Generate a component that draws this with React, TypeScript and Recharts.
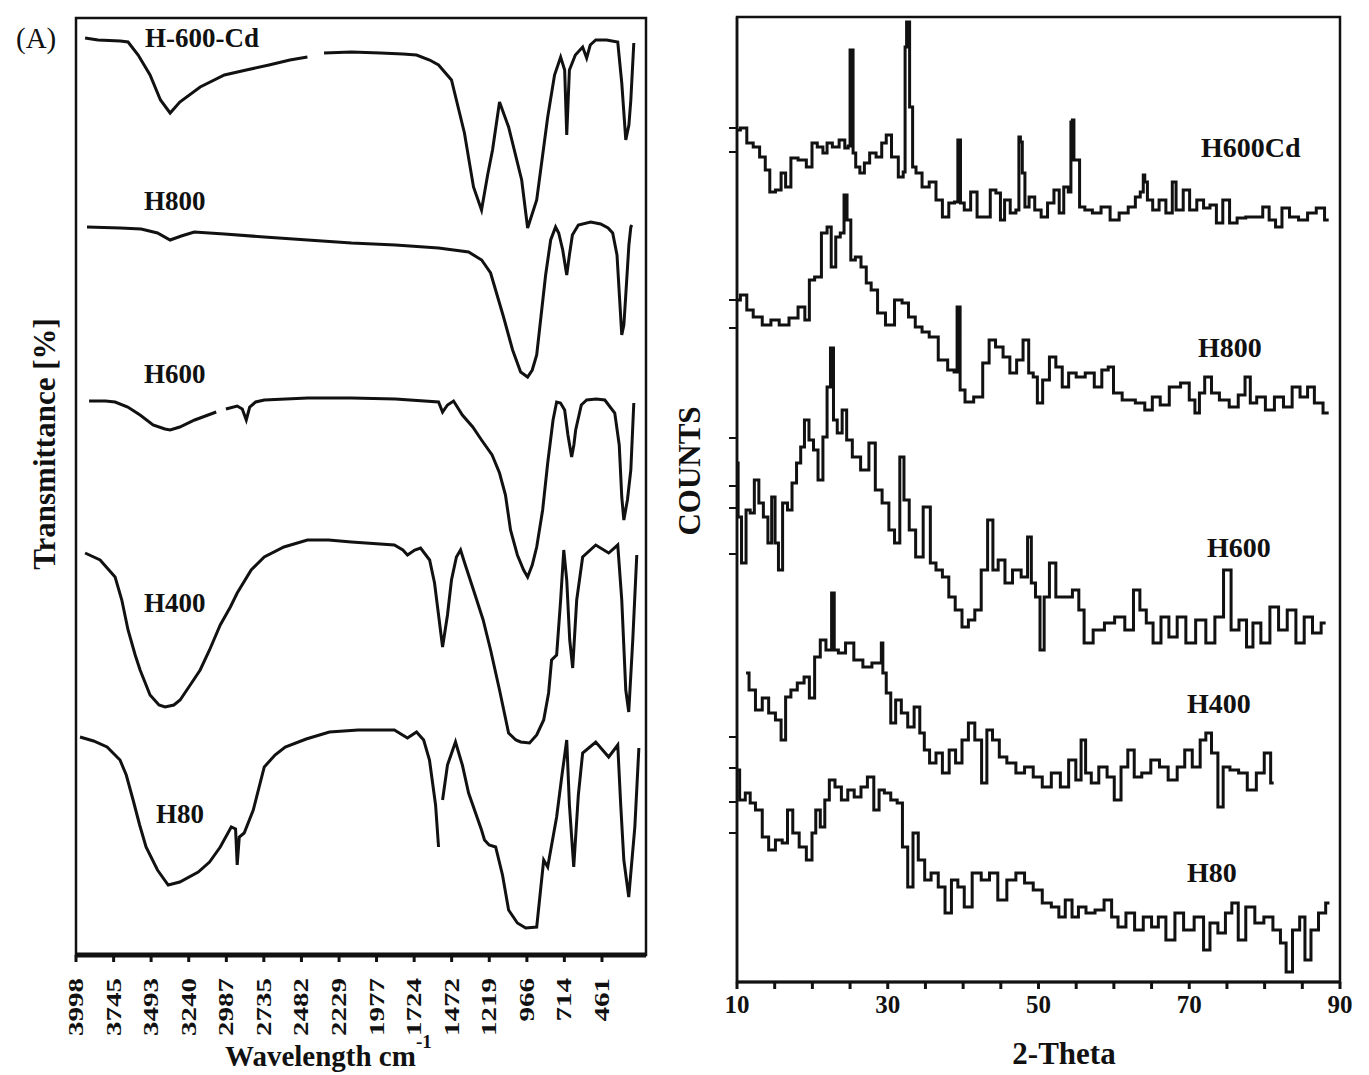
import { LineChart, Line, XAxis, YAxis, ReferenceArea } from "recharts";

// FTIR spectra: [wavenumber cm-1, offset transmittance]
const ftirH600Cd: [number, number | null][] = [
  [3937, 917], [3850, 915], [3700, 914], [3648, 913], [3580, 900], [3500, 880], [3430, 855], [3365, 842],
  [3300, 853], [3163, 868], [3000, 880], [2853, 885], [2700, 890], [2560, 895], [2442, 898], [2400, null],
  [2330, 902], [2146, 903], [1950, 902], [1800, 901], [1708, 900], [1620, 895], [1560, 890], [1473, 875],
  [1386, 822], [1325, 768], [1271, 745], [1230, 780], [1197, 805], [1150, 853], [1089, 828], [1001, 775],
  [961, 727], [900, 755], [826, 838], [780, 880], [739, 898], [712, 885], [698, 820], [680, 885],
  [640, 900], [591, 908], [564, 897], [540, 910], [503, 915], [430, 915], [355, 913], [328, 872],
  [301, 815], [280, 830], [267, 855], [247, 912],
];
const ftirH800: [number, number | null][] = [
  [3924, 728], [3700, 727], [3560, 726], [3450, 722], [3365, 715], [3290, 719], [3203, 723], [3000, 721],
  [2732, 718], [2440, 715], [2146, 712], [1850, 710], [1560, 707], [1358, 703], [1270, 695], [1210, 682],
  [1123, 638], [1062, 605], [1008, 583], [961, 578], [930, 585], [900, 600], [870, 640], [840, 680],
  [806, 715], [773, 728], [752, 722], [725, 705], [698, 680], [680, 700], [660, 720], [620, 730],
  [537, 733], [470, 731], [420, 727], [389, 722], [360, 700], [342, 655], [328, 620], [314, 630],
  [301, 660], [280, 710], [267, 728], [260, 730],
];
const ftirH600: [number, number | null][] = [
  [3910, 554], [3800, 554], [3735, 553], [3650, 548], [3567, 540], [3480, 530], [3400, 526], [3365, 525],
  [3300, 528], [3200, 535], [3055, 543], [3030, null], [2990, 546], [2914, 549], [2880, 546], [2853, 535],
  [2830, 548], [2790, 553], [2732, 555], [2440, 557], [2146, 557], [1850, 556], [1560, 553], [1533, 543],
  [1500, 550], [1459, 554], [1400, 540], [1330, 528], [1271, 515], [1200, 500], [1150, 482], [1110, 460],
  [1076, 425], [1030, 400], [988, 385], [961, 378], [930, 390], [900, 408], [860, 445], [826, 492],
  [790, 535], [766, 553], [740, 552], [712, 545], [690, 520], [665, 498], [650, 510], [638, 525],
  [600, 550], [564, 555], [500, 556], [442, 555], [375, 542], [345, 510], [328, 458], [314, 435],
  [290, 455], [267, 485], [247, 552],
];
const ftirH400: [number, number | null][] = [
  [3937, 402], [3836, 395], [3735, 378], [3690, 355], [3648, 325], [3600, 300], [3567, 285], [3500, 260],
  [3440, 250], [3399, 248], [3340, 250], [3298, 255], [3230, 270], [3163, 285], [3100, 305], [3028, 330],
  [2960, 348], [2914, 362], [2820, 385], [2732, 398], [2600, 408], [2442, 415], [2300, 415], [2146, 413],
  [1857, 410], [1800, 405], [1769, 400], [1720, 405], [1681, 407], [1620, 395], [1587, 372], [1560, 340],
  [1533, 308], [1500, 340], [1473, 375], [1440, 398], [1412, 405], [1380, 390], [1325, 365], [1260, 335],
  [1210, 305], [1150, 265], [1089, 222], [1040, 215], [1008, 213], [948, 212], [900, 220], [853, 235],
  [820, 262], [800, 295], [766, 300], [739, 355], [718, 405], [698, 375], [678, 315], [658, 287],
  [631, 355], [591, 398], [503, 410], [416, 402], [355, 410], [328, 355], [301, 265], [281, 243],
  [254, 315], [227, 400],
];
const ftirH80: [number, number | null][] = [
  [3971, 218], [3880, 214], [3789, 208], [3702, 195], [3660, 180], [3614, 155], [3570, 130], [3527, 108],
  [3450, 85], [3378, 70], [3300, 73], [3176, 83], [3100, 93], [3028, 108], [2954, 128], [2925, 126],
  [2914, 90], [2900, 118], [2867, 122], [2806, 145], [2732, 188], [2660, 200], [2591, 208], [2450, 216],
  [2294, 223], [2100, 225], [1857, 225], [1769, 217], [1708, 223], [1660, 215], [1621, 195], [1580, 150],
  [1560, 108], [1545, null], [1533, 155], [1500, 190], [1446, 213], [1400, 190], [1358, 162], [1271, 125],
  [1251, 115], [1220, 110], [1176, 108], [1130, 80], [1089, 45], [1030, 32], [974, 27], [900, 28],
  [853, 95], [826, 88], [766, 138], [730, 180], [698, 215], [680, 150], [651, 88], [620, 160],
  [591, 202], [503, 213], [416, 198], [355, 210], [335, 150], [314, 95], [281, 58], [240, 128], [213, 207],
];

const ftirTicks = [3998, 3745, 3493, 3240, 2987, 2735, 2482, 2229, 1977, 1724, 1472, 1219, 966, 714, 461];

// XRD patterns: [2-theta, offset counts]
const xrdH600Cd: [number, number][] = [
  [10.0, 852], [10.9, 854], [11.7, 839], [12.6, 835], [13.4, 825], [14.1, 812], [14.6, 790], [15.6, 792],
  [16.1, 809], [16.8, 795], [17.5, 824], [18.7, 822], [19.7, 815], [20.2, 839], [21.1, 835], [21.7, 829],
  [22.2, 839], [23.1, 835], [24.0, 842], [24.6, 834], [24.9, 836], [25.1, 932], [25.3, 932], [25.5, 829],
  [26.0, 815], [26.6, 809], [27.2, 819], [28.0, 829], [28.9, 825], [29.5, 839], [30.1, 847], [30.9, 825],
  [31.9, 805], [32.2, 810], [32.4, 935], [32.6, 960], [32.8, 960], [33.0, 875], [33.2, 875], [33.4, 815],
  [34.1, 809], [35.0, 795], [36.0, 800], [36.8, 782], [37.7, 765], [38.5, 779], [39.2, 780], [39.4, 842],
  [39.6, 842], [39.7, 779], [40.6, 772], [41.4, 790], [42.3, 765], [43.2, 765], [44.0, 792], [44.7, 789],
  [45.2, 762], [45.8, 782], [46.7, 769], [47.3, 772], [47.5, 845], [47.7, 840], [48.0, 809], [48.4, 775],
  [49.1, 785], [49.9, 772], [50.8, 765], [51.6, 779], [52.5, 792], [53.0, 769], [53.7, 795], [54.2, 790],
  [54.4, 860], [54.6, 862], [54.8, 822], [55.2, 822], [55.7, 775], [56.6, 772], [57.7, 769], [58.9, 775],
  [60.1, 762], [61.3, 769], [62.5, 775], [63.2, 785], [63.8, 790], [64.0, 807], [64.2, 800], [64.7, 782],
  [65.6, 772], [66.4, 782], [67.4, 769], [68.1, 800], [68.4, 772], [68.8, 772], [69.6, 792], [70.5, 772],
  [71.5, 782], [72.3, 774], [73.2, 777], [74.0, 759], [74.9, 782], [75.8, 759], [76.9, 764], [78.1, 765],
  [79.3, 765], [80.2, 775], [81.0, 762], [81.9, 755], [82.7, 774], [83.9, 765], [85.1, 762], [86.3, 769],
  [87.4, 774], [88.5, 762],
];
const xrdH800: [number, number][] = [
  [10.0, 682], [10.9, 687], [11.7, 672], [12.6, 665], [14.1, 657], [14.9, 662], [16.3, 657], [17.5, 664],
  [18.7, 675], [19.3, 662], [19.9, 702], [20.7, 705], [21.7, 749], [22.2, 755], [22.8, 715], [23.4, 745],
  [24.0, 749], [24.4, 787], [24.8, 762], [25.4, 722], [26.0, 725], [26.9, 715], [27.4, 699], [28.2, 692],
  [29.1, 669], [30.3, 657], [31.5, 682], [32.3, 679], [33.2, 665], [34.1, 655], [35.0, 650], [36.0, 645],
  [37.4, 622], [38.5, 612], [39.1, 610], [39.3, 675], [39.5, 675], [39.7, 592], [40.8, 580], [42.0, 585],
  [43.2, 619], [43.7, 642], [44.9, 635], [45.7, 625], [46.7, 609], [47.5, 622], [48.4, 642], [49.0, 609],
  [49.6, 605], [50.1, 579], [51.0, 602], [51.9, 625], [52.7, 615], [53.6, 595], [54.4, 609], [55.6, 605],
  [56.8, 609], [58.0, 595], [58.8, 612], [59.7, 615], [60.2, 589], [62.0, 582], [63.7, 579], [64.5, 572],
  [65.7, 585], [66.6, 577], [68.1, 595], [69.6, 599], [70.4, 582], [71.1, 569], [71.6, 589], [72.5, 605],
  [73.4, 589], [74.6, 582], [76.0, 575], [77.0, 587], [77.8, 605], [78.4, 579], [79.5, 585], [80.7, 572],
  [81.9, 585], [83.1, 575], [84.2, 595], [85.2, 585], [86.2, 595], [87.0, 579], [88.5, 569],
];
const xrdH600: [number, number][] = [
  [10.0, 519], [10.3, 465], [10.9, 419], [11.5, 472], [12.0, 469], [12.6, 502], [13.2, 479], [13.8, 465],
  [14.4, 439], [14.8, 485], [15.3, 439], [15.7, 412], [16.4, 479], [17.0, 472], [17.6, 499], [18.2, 519],
  [18.7, 535], [19.2, 562], [19.9, 542], [20.4, 532], [21.1, 502], [21.7, 545], [22.2, 595], [22.6, 634],
  [23.0, 562], [23.6, 549], [24.3, 572], [24.8, 542], [25.8, 525], [27.0, 512], [28.0, 539], [28.7, 492],
  [29.8, 479], [30.5, 452], [31.3, 439], [31.9, 525], [32.4, 482], [33.3, 452], [34.1, 425], [35.3, 475],
  [36.0, 419], [36.8, 412], [37.7, 405], [38.5, 385], [39.4, 372], [40.3, 355], [41.1, 362], [42.0, 372],
  [42.8, 412], [43.7, 462], [44.2, 412], [45.1, 422], [46.0, 399], [47.1, 412], [48.3, 405], [48.8, 445],
  [49.3, 399], [49.9, 385], [50.5, 332], [51.0, 385], [51.9, 419], [52.7, 385], [53.9, 385], [55.1, 392],
  [55.6, 372], [56.5, 339], [58.0, 352], [59.5, 359], [60.7, 365], [62.2, 352], [63.0, 392], [63.9, 372],
  [64.7, 359], [65.7, 339], [66.8, 365], [67.8, 345], [69.0, 365], [70.1, 339], [71.6, 362], [72.8, 339],
  [74.0, 365], [75.1, 412], [76.0, 352], [77.2, 362], [78.0, 335], [78.9, 359], [80.1, 339], [81.3, 375],
  [82.4, 352], [83.6, 372], [84.7, 339], [85.8, 365], [86.9, 349], [88.1, 359],
];
const xrdH400: [number, number][] = [
  [11.2, 309], [12.0, 292], [12.9, 272], [13.8, 284], [14.6, 269], [15.6, 262], [16.1, 242], [16.8, 285],
  [17.5, 292], [18.5, 299], [19.3, 305], [19.9, 284], [20.7, 325], [21.4, 342], [22.2, 332], [22.5, 332],
  [22.6, 389], [22.8, 389], [23.0, 332], [23.9, 329], [24.9, 339], [26.1, 322], [27.3, 315], [28.5, 319],
  [29.1, 319], [29.2, 339], [29.5, 309], [30.1, 289], [30.7, 259], [31.4, 282], [32.2, 269], [33.1, 255],
  [33.9, 275], [34.6, 249], [35.1, 232], [36.0, 219], [36.8, 229], [37.7, 209], [38.6, 232], [39.4, 219],
  [40.3, 242], [41.1, 259], [42.0, 242], [42.9, 199], [43.4, 252], [44.4, 242], [45.2, 225], [46.4, 219],
  [47.6, 209], [48.7, 215], [49.9, 205], [51.1, 195], [52.3, 209], [53.5, 195], [54.5, 222], [55.4, 202],
  [55.9, 242], [56.6, 209], [57.4, 199], [58.6, 215], [59.6, 205], [60.5, 182], [61.4, 215], [62.3, 232],
  [63.1, 205], [64.3, 209], [65.5, 222], [66.6, 215], [67.8, 202], [69.0, 215], [69.8, 232], [71.0, 215],
  [71.9, 242], [72.5, 249], [73.4, 229], [74.2, 175], [74.8, 215], [76.0, 212], [77.1, 209], [78.3, 192],
  [79.5, 209], [80.4, 229], [81.2, 199],
];
const xrdH80: [number, number][] = [
  [10.0, 212], [10.7, 182], [11.5, 189], [12.0, 179], [12.9, 172], [13.8, 145], [14.6, 132], [15.6, 142],
  [16.4, 139], [17.0, 172], [17.8, 149], [18.7, 135], [19.7, 122], [20.2, 149], [20.7, 172], [21.4, 155],
  [21.9, 182], [22.6, 202], [23.4, 195], [24.3, 182], [25.1, 192], [26.0, 185], [26.9, 195], [27.7, 205],
  [28.6, 172], [29.1, 192], [30.0, 189], [30.8, 182], [31.7, 179], [32.2, 135], [33.1, 95], [33.6, 149],
  [34.5, 122], [35.3, 102], [36.2, 109], [37.2, 95], [38.0, 69], [38.9, 102], [39.7, 95], [40.6, 75],
  [41.8, 109], [43.0, 102], [44.0, 109], [45.2, 82], [46.4, 102], [47.6, 109], [48.7, 99], [49.9, 92],
  [51.1, 79], [52.3, 75], [53.1, 65], [54.0, 82], [54.9, 65], [55.7, 75], [56.9, 69], [58.1, 72],
  [59.3, 82], [60.1, 65], [61.0, 55], [62.2, 69], [63.3, 52], [64.5, 65], [65.5, 55], [66.3, 65],
  [67.5, 42], [68.7, 69], [69.8, 52], [71.5, 65], [72.3, 32], [73.2, 59], [74.4, 49], [75.2, 69],
  [76.1, 79], [76.9, 42], [78.1, 75], [79.3, 59], [80.5, 65], [81.7, 52], [82.5, 39], [83.2, 10],
  [84.2, 52], [85.1, 65], [85.6, 22], [86.7, 52], [87.6, 69], [88.6, 79],
];

const xrdTicks = [10, 15, 20, 25, 30, 35, 40, 45, 50, 55, 60, 65, 70, 75, 80, 85, 90];
const countsTicks = [854, 830, 682, 654, 544, 496, 474, 428, 245, 214, 180, 149];

const ink = "#111";
const serif = "'Liberation Serif', 'Times New Roman', serif";
const toPts = (d: [number, number | null][]) => d.map(([x, y]) => ({ x, y }));

const ftirSeries = [ftirH600Cd, ftirH800, ftirH600, ftirH400, ftirH80];
const xrdSeries = [xrdH600Cd, xrdH800, xrdH600, xrdH400, xrdH80];

const FtirTick = (props: any) => {
  const { x, y, payload } = props;
  return (
    <text
      transform={`translate(${x + 7},${y}) rotate(-90) scale(1.45,1)`}
      textAnchor="end"
      fontSize={20}
      fontWeight="bold"
      fontFamily={serif}
      fill={ink}
    >
      {payload.value}
    </text>
  );
};

const XrdTick = (props: any) => {
  const { x, y, payload } = props;
  if (payload.value % 20 !== 10) return <g />;
  return (
    <text x={x} y={y} dy={22} textAnchor="middle" fontSize={25} fontWeight="bold" fontFamily={serif} fill={ink}>
      {payload.value}
    </text>
  );
};

const bold = { fontFamily: serif, fontWeight: "bold" as const, fill: ink };

export default function App() {
  return (
    <div style={{ position: "absolute", left: 0, top: 0, width: 1369, height: 1075, background: "#fff", overflow: "hidden" }}>
      <div style={{ position: "absolute", left: 0, top: 0 }}>
        <LineChart width={700} height={1075} margin={{ top: 18, right: 54, bottom: 10, left: 76 }}>
          <XAxis
            type="number"
            dataKey="x"
            domain={[165, 3998]}
            reversed
            allowDataOverflow
            ticks={ftirTicks}
            interval={0}
            height={110}
            tickSize={7}
            tickMargin={16}
            axisLine={{ stroke: ink, strokeWidth: 5 }}
            tickLine={{ stroke: ink, strokeWidth: 3 }}
            tick={(p: any) => <FtirTick {...p} />}
          />
          <YAxis hide width={0} type="number" domain={[0, 937]} allowDataOverflow />
          <ReferenceArea x1={165} x2={3998} y1={0} y2={937} fill="none" stroke={ink} strokeWidth={2.5} />
          {ftirSeries.map((d, i) => (
            <Line
              key={i}
              data={toPts(d)}
              dataKey="y"
              type="linear"
              stroke={ink}
              strokeWidth={3}
              dot={false}
              connectNulls={false}
              isAnimationActive={false}
            />
          ))}
        </LineChart>
      </div>
      <div style={{ position: "absolute", left: 680, top: 0 }}>
        <LineChart width={689} height={1075} margin={{ top: 17, right: 29, bottom: 0, left: 37 }}>
          <XAxis
            type="number"
            dataKey="x"
            domain={[10, 90]}
            allowDataOverflow
            ticks={xrdTicks}
            interval={0}
            height={93}
            tickSize={7}
            tickMargin={2}
            axisLine={{ stroke: ink, strokeWidth: 3 }}
            tickLine={{ stroke: ink, strokeWidth: 3 }}
            tick={(p: any) => <XrdTick {...p} />}
          />
          <YAxis
            type="number"
            width={20}
            domain={[0, 965]}
            allowDataOverflow
            ticks={countsTicks}
            interval={0}
            tickSize={8}
            axisLine={{ stroke: ink, strokeWidth: 2.5 }}
            tickLine={{ stroke: ink, strokeWidth: 2 }}
            tick={() => <g />}
          />
          <ReferenceArea x1={10} x2={90} y1={0} y2={965} fill="none" stroke={ink} strokeWidth={2.5} />
          {xrdSeries.map((d, i) => (
            <Line
              key={i}
              data={toPts(d)}
              dataKey="y"
              type="step"
              stroke={ink}
              strokeWidth={3}
              dot={false}
              isAnimationActive={false}
            />
          ))}
        </LineChart>
      </div>
      <svg width={1369} height={1075} style={{ position: "absolute", left: 0, top: 0, pointerEvents: "none" }}>
        <text x={16} y={48} fontSize={29} fontFamily={serif} fill={ink}>(A)</text>
        <text x={145} y={47} fontSize={27} {...bold}>H-600-Cd</text>
        <text x={144} y={210} fontSize={27} {...bold}>H800</text>
        <text x={144} y={383} fontSize={27} {...bold}>H600</text>
        <text x={144} y={612} fontSize={27} {...bold}>H400</text>
        <text x={156} y={823} fontSize={27} {...bold}>H80</text>
        <text transform="translate(55,444) rotate(-90)" textAnchor="middle" fontSize={31} {...bold}>Transmittance [%]</text>
        <text x={225} y={1066} fontSize={29} {...bold}>
          Wavelength cm<tspan dy={-18} fontSize={19}>-1</tspan>
        </text>
        <text x={1201} y={157} fontSize={28} {...bold}>H600Cd</text>
        <text x={1198} y={357} fontSize={28} {...bold}>H800</text>
        <text x={1207} y={557} fontSize={28} {...bold}>H600</text>
        <text x={1187} y={713} fontSize={28} {...bold}>H400</text>
        <text x={1187} y={882} fontSize={28} {...bold}>H80</text>
        <text transform="translate(700,471) rotate(-90)" textAnchor="middle" fontSize={31} {...bold}>COUNTS</text>
        <text x={1064} y={1064} textAnchor="middle" fontSize={31} {...bold}>2-Theta</text>
      </svg>
    </div>
  );
}
